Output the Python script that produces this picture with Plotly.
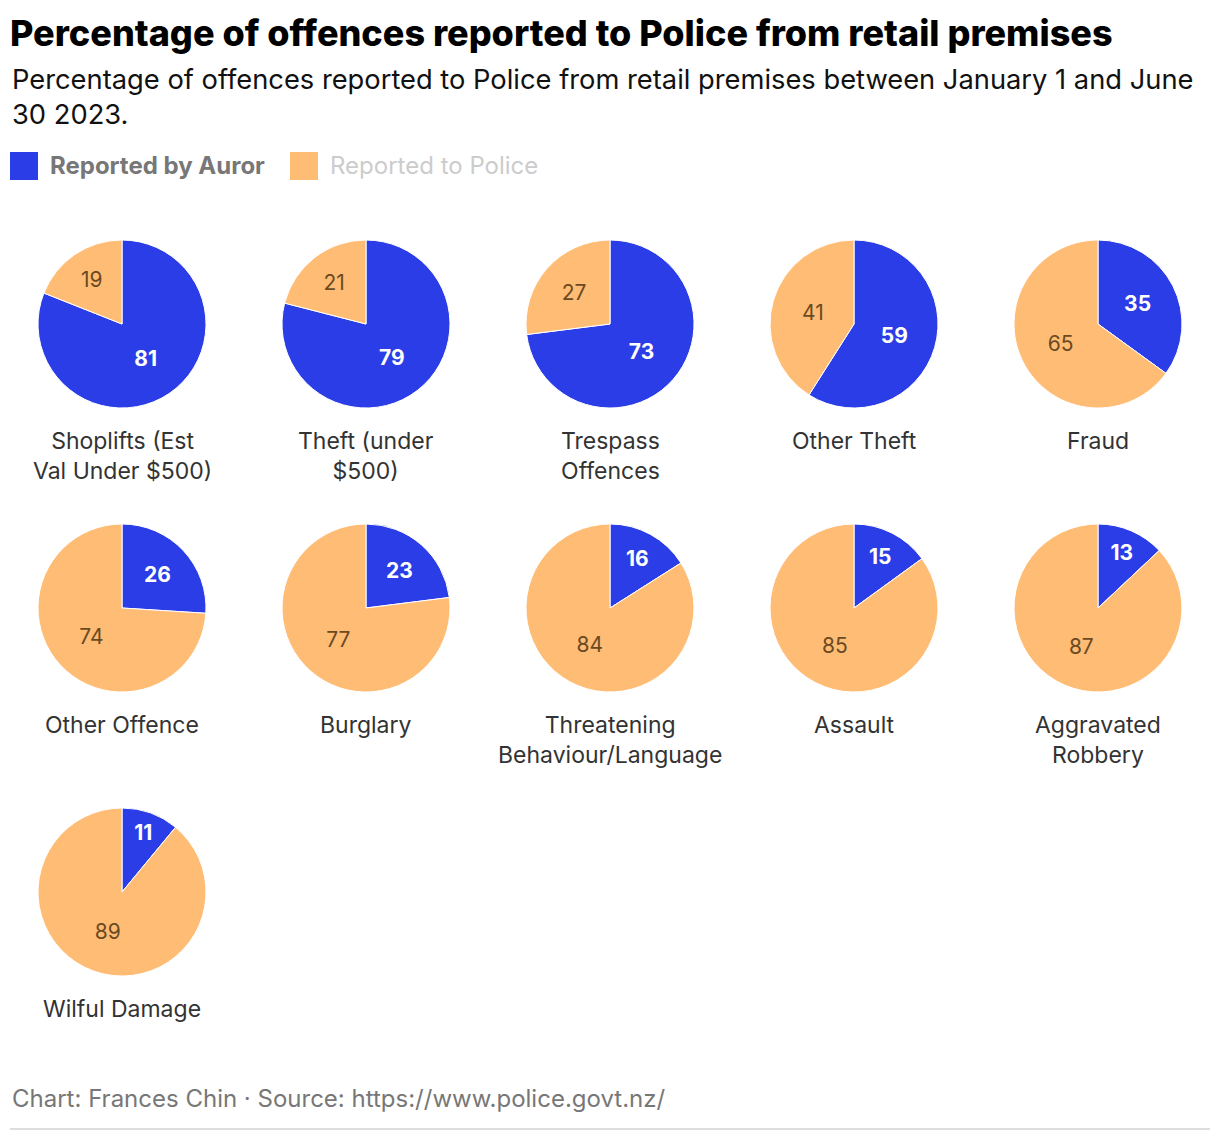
import plotly.graph_objects as go

# data
categories = ["Shoplifts (Est<br>Val Under $500)", "Theft (under<br>$500)", "Trespass<br>Offences",
              "Other Theft", "Fraud", "Other Offence", "Burglary", "Threatening<br>Behaviour/Language",
              "Assault", "Aggravated<br>Robbery", "Wilful Damage"]
auror = [81, 79, 73, 59, 35, 26, 23, 16, 15, 13, 11]
police = [19, 21, 27, 41, 65, 74, 77, 84, 85, 87, 89]
series = ["Reported by Auror", "Reported to Police"]
colors = ["#2b3de7", "#ffbc75"]

W, H = 1220, 1140
FONT = "Inter"
ncol = 5
r = 84
OFF = 8  # page body margin

def px_x(v):
    return (v - OFF) / W

def px_y(v):
    return 1 - (v - OFF) / H

fig = go.Figure()
annotations = []
for i, name in enumerate(categories):
    col, row = i % ncol, i // ncol
    cx = 122 + 244 * col
    cy = 324 + 284 * row
    fig.add_trace(go.Pie(
        labels=series,
        values=[auror[i], police[i]],
        sort=False,
        direction="clockwise",
        rotation=0,
        marker=dict(colors=colors, line=dict(color="white", width=1)),
        textposition="inside",
        insidetextorientation="horizontal",
        texttemplate=["<b>%{value}</b>", "%{value}"],
        textfont=dict(family=FONT, size=21, color=["white", "#6b4a22"]),
        hoverinfo="label+value",
        showlegend=False,
        domain=dict(x=[px_x(cx - r), px_x(cx + r)], y=[px_y(cy + r), px_y(cy - r)]),
    ))
    annotations.append(dict(
        x=px_x(cx), y=px_y(cy + r + 17), xref="paper", yref="paper",
        xanchor="center", yanchor="top", showarrow=False, text=name,
        font=dict(family=FONT, size=23, color="#333333"),
    ))

# subtitle
annotations.append(dict(
    x=px_x(10), y=px_y(61), xref="paper", yref="paper", xanchor="left", yanchor="top",
    align="left", showarrow=False,
    text="Percentage of offences reported to Police from retail premises between January 1 and June<br>30 2023.",
    font=dict(family=FONT, size=27.3, color="#111111"),
))

# legend (manual)
legend_x = [10, 290]
legend_style = [dict(color="#777777", weight="bold"), dict(color="#cccccc", weight="normal")]
shapes = []
for k, s in enumerate(series):
    x0 = legend_x[k]
    shapes.append(dict(type="rect", xref="paper", yref="paper",
                       x0=px_x(x0), x1=px_x(x0 + 28), y0=px_y(180), y1=px_y(152),
                       fillcolor=colors[k], line=dict(width=0)))
    annotations.append(dict(
        x=px_x(x0 + 38), y=px_y(166), xref="paper", yref="paper", xanchor="left", yanchor="middle",
        showarrow=False, text=s,
        font=dict(family=FONT, size=24, color=legend_style[k]["color"], weight=legend_style[k]["weight"]),
    ))

# footer
annotations.append(dict(
    x=px_x(10), y=px_y(1098), xref="paper", yref="paper", xanchor="left", yanchor="middle",
    showarrow=False, text="Chart: Frances Chin · Source: https://www.police.govt.nz/",
    font=dict(family=FONT, size=24, color="#777777"),
))
shapes.append(dict(type="line", xref="paper", yref="paper",
                   x0=px_x(10), x1=px_x(1210), y0=px_y(1129), y1=px_y(1129),
                   line=dict(color="#dddddd", width=2)))

fig.update_layout(
    width=W, height=H,
    margin=dict(l=0, r=0, t=0, b=0),
    paper_bgcolor="white",
    plot_bgcolor="white",
    title=dict(text="Percentage of offences reported to Police from retail premises",
               x=px_x(10), xanchor="left", xref="paper",
               y=1 - (33 - OFF) / H, yref="container", yanchor="middle",
               font=dict(family=FONT, size=36, color="#000000", weight=800)),
    annotations=annotations,
    shapes=shapes,
)

fig.write_html("out.html")
